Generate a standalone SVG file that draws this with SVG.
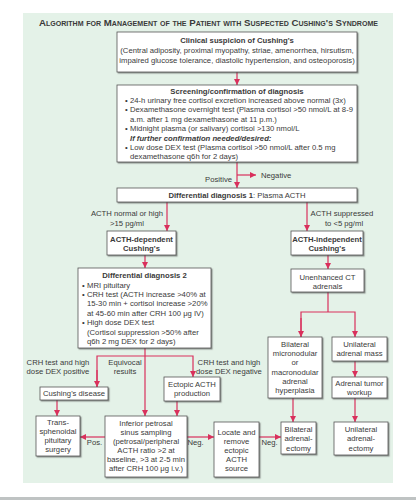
<svg xmlns="http://www.w3.org/2000/svg" width="416" height="500" viewBox="0 0 416 500">
<style>
.t{font-family:"Liberation Sans",Arial,sans-serif;font-size:7.7px;fill:#3a3a3a}
.c{text-anchor:middle}
.b{font-weight:bold}
.bi{font-weight:bold;font-style:italic}
.box{fill:#fff;stroke:#555;stroke-width:0.8;filter:url(#sh)}
.cn{stroke:#d9305c;stroke-width:1.2;fill:none}
.ttl{font-family:"Liberation Sans",Arial,sans-serif;font-size:9.6px;font-weight:bold;font-variant:small-caps;fill:#3a3a3a}
</style>
<defs>
<filter id="sh" x="-10%" y="-10%" width="130%" height="140%">
<feDropShadow dx="1.2" dy="1.2" stdDeviation="0.6" flood-color="#444" flood-opacity="0.55"/>
</filter>
<marker id="ah" markerUnits="userSpaceOnUse" markerWidth="6" markerHeight="6" refX="6" refY="3" orient="auto">
<path d="M0,0 L6,3 L0,6 z" fill="#d9305c"/>
</marker>
</defs>
<rect x="0" y="0" width="416" height="500" fill="#fff"/>
<rect x="23" y="13" width="370" height="470" fill="#e4f2e8"/>
<rect x="0" y="497" width="416" height="3" fill="#bfc3c3"/>
<text class="ttl" x="39" y="25.5" textLength="339" lengthAdjust="spacingAndGlyphs">Algorithm for Management of the Patient with Suspected Cushing's Syndrome</text>

<g id="connectors">
<line class="cn" x1="237" y1="72" x2="237" y2="85" marker-end="url(#ah)"/>
<line class="cn" x1="237" y1="162" x2="237" y2="188" marker-end="url(#ah)"/>
<line class="cn" x1="237" y1="175" x2="256" y2="175" marker-end="url(#ah)"/>
<line class="cn" x1="167" y1="202" x2="167" y2="231" marker-end="url(#ah)"/>
<line class="cn" x1="307" y1="202" x2="307" y2="231" marker-end="url(#ah)"/>
<line class="cn" x1="145" y1="255" x2="145" y2="268" marker-end="url(#ah)"/>
<line class="cn" x1="328" y1="255" x2="328" y2="269" marker-end="url(#ah)"/>
<polyline class="cn" points="328,292 328,312"/>
<polyline class="cn" points="301,337 301,312 355,312 355,337" marker-end="url(#ah)"/>
<line class="cn" x1="301" y1="318" x2="301" y2="337" marker-end="url(#ah)"/>
<line class="cn" x1="355" y1="361" x2="355" y2="377" marker-end="url(#ah)"/>
<line class="cn" x1="355" y1="398" x2="355" y2="422" marker-end="url(#ah)"/>
<line class="cn" x1="293" y1="398" x2="293" y2="422" marker-end="url(#ah)"/>
<line class="cn" x1="145" y1="348" x2="145" y2="416" marker-end="url(#ah)"/>
<polyline class="cn" points="97,387 97,356 193,356 193,377" marker-end="url(#ah)"/>
<line class="cn" x1="97" y1="370" x2="97" y2="387" marker-end="url(#ah)"/>
<line class="cn" x1="57" y1="400" x2="57" y2="416" marker-end="url(#ah)"/>
<line class="cn" x1="177" y1="401" x2="177" y2="416" marker-end="url(#ah)"/>
<line class="cn" x1="105" y1="437" x2="80" y2="437" marker-end="url(#ah)"/>
<line class="cn" x1="187" y1="437" x2="214" y2="437" marker-end="url(#ah)"/>
<line class="cn" x1="259" y1="437" x2="281" y2="437" marker-end="url(#ah)"/>
<text class="t" x="261" y="177.6">Negative</text>
<text class="t" x="232" y="181.6" text-anchor="end">Positive</text>
<text class="t c" x="127" y="215.6">ACTH normal or high</text>
<text class="t c" x="127" y="225.6">&gt;15 pg/ml</text>
<text class="t c" x="342" y="215.6">ACTH suppressed</text>
<text class="t c" x="344" y="225.6">to &lt;5 pg/ml</text>
<text class="t c" x="58" y="364.7">CRH test and high</text>
<text class="t c" x="58" y="373.7">dose DEX positive</text>
<text class="t c" x="125" y="364.7">Equivocal</text>
<text class="t c" x="125" y="373.7">results</text>
<text class="t c" x="229" y="364.7">CRH test and high</text>
<text class="t c" x="229" y="373.7">dose DEX negative</text>
<text class="t c" x="94.5" y="444.6">Pos.</text>
<text class="t c" x="195.5" y="444.6">Neg.</text>
<text class="t c" x="269.5" y="444.6">Neg.</text>
</g>

<g id="clinical">
<rect class="box" x="117" y="32" width="240" height="40"/>
<text class="t c b" x="237" y="42.7">Clinical suspicion of Cushing's</text>
<text class="t c" x="237" y="52.5">(Central adiposity, proximal myopathy, striae, amenorrhea, hirsutism,</text>
<text class="t c" x="237" y="62.5">impaired glucose tolerance, diastolic hypertension, and osteoporosis)</text>
</g>

<g id="screening">
<rect class="box" x="117" y="85" width="240" height="77"/>
<text class="t c b" x="237" y="93.7">Screening/confirmation of diagnosis</text>
<text class="t" x="125" y="103">•</text><text class="t" x="130" y="103">24-h urinary free cortisol excretion increased above normal (3x)</text>
<text class="t" x="125" y="112.4">•</text><text class="t" x="130" y="112.4">Dexamethasone overnight test (Plasma cortisol &gt;50 nmol/L at 8-9</text>
<text class="t" x="130" y="121.7">a.m. after 1 mg dexamethasone at 11 p.m.)</text>
<text class="t" x="125" y="131.1">•</text><text class="t" x="130" y="131.1">Midnight plasma (or salivary) cortisol &gt;130 nmol/L</text>
<text class="t bi" x="130" y="140.5">If further confirmation needed/desired:</text>
<text class="t" x="125" y="149.8">•</text><text class="t" x="130" y="149.8">Low dose DEX test (Plasma cortisol &gt;50 nmol/L after 0.5 mg</text>
<text class="t" x="130" y="159.2">dexamethasone q6h for 2 days)</text>
</g>

<g id="diff1">
<rect class="box" x="117" y="188" width="240" height="14"/>
<text class="t c" x="237" y="198.2"><tspan class="b">Differential diagnosis 1</tspan>: Plasma ACTH</text>
</g>

<g id="acth-dep">
<rect class="box" x="107" y="231" width="69" height="24"/>
<text class="t c b" x="141.5" y="241.7">ACTH-dependent</text>
<text class="t c b" x="141.5" y="250.7">Cushing's</text>
</g>

<g id="acth-indep">
<rect class="box" x="291" y="231" width="72" height="24"/>
<text class="t c b" x="327" y="241.7">ACTH-independent</text>
<text class="t c b" x="327" y="250.7">Cushing's</text>
</g>

<g id="diff2">
<rect class="box" x="78" y="268" width="133" height="80"/>
<text class="t c b" x="144.5" y="277.7">Differential diagnosis 2</text>
<text class="t" x="82" y="287.5">•</text><text class="t" x="87" y="287.5">MRI pituitary</text>
<text class="t" x="82" y="297">•</text><text class="t" x="87" y="297">CRH test (ACTH increase &gt;40% at</text>
<text class="t" x="87" y="306.4">15-30 min + cortisol increase &gt;20%</text>
<text class="t" x="87" y="315.8">at 45-60 min after CRH 100 μg IV)</text>
<text class="t" x="82" y="325.1">•</text><text class="t" x="87" y="325.1">High dose DEX test</text>
<text class="t" x="87" y="334.5">(Cortisol suppression &gt;50% after</text>
<text class="t" x="87" y="343.8">q6h 2 mg DEX for 2 days)</text>
</g>

<g id="ct">
<rect class="box" x="291" y="269" width="73" height="23"/>
<text class="t c" x="327.5" y="279.7">Unenhanced CT</text>
<text class="t c" x="327.5" y="288.7">adrenals</text>
</g>

<g id="bilateral">
<rect class="box" x="268" y="337" width="54" height="61"/>
<text class="t c" x="295" y="346.7">Bilateral</text>
<text class="t c" x="295" y="356">micronodular</text>
<text class="t c" x="295" y="365.4">or</text>
<text class="t c" x="295" y="374.7">macronodular</text>
<text class="t c" x="295" y="384">adrenal</text>
<text class="t c" x="295" y="393.4">hyperplasia</text>
</g>

<g id="unilateral">
<rect class="box" x="332" y="337" width="55" height="24"/>
<text class="t c" x="359.5" y="346.7">Unilateral</text>
<text class="t c" x="359.5" y="355.7">adrenal mass</text>
</g>

<g id="workup">
<rect class="box" x="332" y="377" width="55" height="21"/>
<text class="t c" x="359.5" y="386.4">Adrenal tumor</text>
<text class="t c" x="359.5" y="395">workup</text>
</g>

<g id="uni-adx">
<rect class="box" x="334" y="422" width="54" height="33"/>
<text class="t c" x="361" y="431.7">Unilateral</text>
<text class="t c" x="361" y="441.2">adrenal-</text>
<text class="t c" x="361" y="450.7">ectomy</text>
</g>

<g id="bi-adx">
<rect class="box" x="281" y="422" width="35" height="32"/>
<text class="t c" x="298.5" y="431.7">Bilateral</text>
<text class="t c" x="298.5" y="441.2">adrenal-</text>
<text class="t c" x="298.5" y="450.7">ectomy</text>
</g>

<g id="cushings-disease">
<rect class="box" x="40" y="387" width="68" height="13"/>
<text class="t c" x="74" y="396.3">Cushing's disease</text>
</g>

<g id="ectopic">
<rect class="box" x="164" y="377" width="56" height="24"/>
<text class="t c" x="192" y="386.7">Ectopic ACTH</text>
<text class="t c" x="192" y="395.7">production</text>
</g>

<g id="surgery">
<rect class="box" x="36" y="416" width="44" height="40"/>
<text class="t c" x="58" y="424.7">Trans-</text>
<text class="t c" x="58" y="433.7">sphenoidal</text>
<text class="t c" x="58" y="442.7">pituitary</text>
<text class="t c" x="58" y="451.7">surgery</text>
</g>

<g id="ipss">
<rect class="box" x="105" y="416" width="82" height="61"/>
<text class="t c" x="146" y="425.7">Inferior petrosal</text>
<text class="t c" x="146" y="434.8">sinus sampling</text>
<text class="t c" x="146" y="443.9">(petrosal/peripheral</text>
<text class="t c" x="146" y="453">ACTH ratio &gt;2 at</text>
<text class="t c" x="146" y="462.1">baseline, &gt;3  at 2-5 min</text>
<text class="t c" x="146" y="471.2">after CRH 100 μg i.v.)</text>
</g>

<g id="locate">
<rect class="box" x="214" y="422" width="45" height="55"/>
<text class="t c" x="236.5" y="434.7">Locate and</text>
<text class="t c" x="236.5" y="443.7">remove</text>
<text class="t c" x="236.5" y="452.7">ectopic</text>
<text class="t c" x="236.5" y="461.7">ACTH</text>
<text class="t c" x="236.5" y="470.7">source</text>
</g>
</svg>
